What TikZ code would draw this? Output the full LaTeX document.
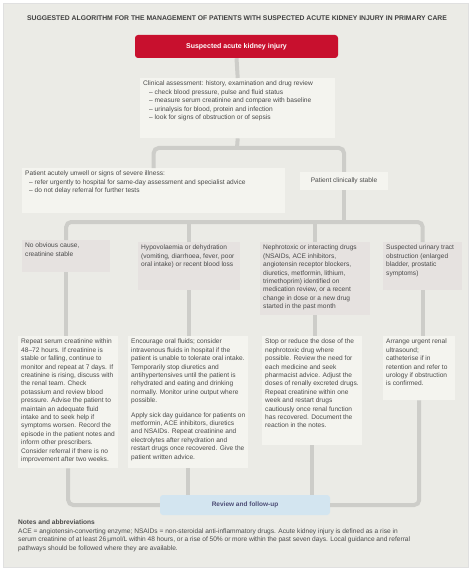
\documentclass[tikz,border=0pt]{standalone}
\usepackage{fontspec}
\setmainfont{Liberation Sans}

\definecolor{panelgrey}{HTML}{EBEBE6}
\definecolor{boxpale}{HTML}{F4F4EF}
\definecolor{boxpink}{HTML}{E6E2E0}
\definecolor{linkgrey}{HTML}{CDCDC9}
\definecolor{alertred}{HTML}{C8102E}
\definecolor{noteblue}{HTML}{D3E5F0}
\definecolor{textgrey}{HTML}{4A4A4A}

% fixed size text cell, text at the top
\newcommand{\cell}[3]{\parbox[c][#2][t]{#1}{\raggedright\hyphenpenalty=10000 #3}}

\begin{document}
\begin{tikzpicture}[x=1pt, y=-1pt,
    txt/.style={font=\fontsize{6.6}{8.4}\selectfont, text=textgrey, inner sep=3pt},
    pale/.style={txt, fill=boxpale, anchor=north west},
    pink/.style={txt, fill=boxpink, anchor=north west},
    link/.style={draw=linkgrey, line width=4pt, rounded corners=5pt},
  ]

    \useasboundingbox (0,0) rectangle (474,572);
    \fill[white] (0,0) rectangle (474,572);
    \draw[fill=panelgrey, draw=black!12] (3,3) rectangle (468,567);

    % title and start
    \node (title) at (237,18) {\fontsize{6.8}{7}\selectfont\bfseries\color{black!75}
      SUGGESTED ALGORITHM FOR THE MANAGEMENT OF PATIENTS WITH SUSPECTED ACUTE KIDNEY INJURY IN PRIMARY CARE};
    \node (start) [fill=alertred, rounded corners=3pt, minimum width=203pt, minimum height=23pt,
      text=white, font=\fontsize{7}{8}\selectfont\bfseries] at (236.5,46.5)
      {Suspected acute kidney injury};

    \node (assess) [pale] at (140,78) {\cell{189pt}{54pt}
      {Clinical assessment: history, examination and drug review\\
       \hspace*{6pt}-- check blood pressure, pulse and fluid status\\
       \hspace*{6pt}-- measure serum creatinine and compare with baseline\\
       \hspace*{6pt}-- urinalysis for blood, protein and infection\\
       \hspace*{6pt}-- look for signs of obstruction or of sepsis}};

    % first split
    \node (unwell) [pale] at (22,168) {\cell{257pt}{39pt}
      {Patient acutely unwell or signs of severe illness:\\
       \hspace*{4pt}-- refer urgently to hospital for same-day assessment and specialist advice\\
       \hspace*{4pt}-- do not delay referral for further tests}};
    \node (stable) [txt, fill=boxpale, minimum width=88pt, minimum height=18pt] at (344,181)
      {Patient clinically stable};

    % causes
    \node (nocause) [pink] at (22,240) {\cell{82pt}{26pt}
      {No obvious cause,\\ creatinine stable}};
    \node (volume) [pink] at (138,242) {\cell{96pt}{42pt}
      {Hypovolaemia or dehydration (vomiting, diarrhoea, fever, poor oral intake) or recent blood loss}};
    \node (drugs) [pink] at (260,242) {\cell{104pt}{67pt}
      {Nephrotoxic or interacting drugs (NSAIDs, ACE inhibitors, angiotensin receptor blockers, diuretics, metformin, lithium, trimethoprim) identified on medication review, or a recent change in dose or a new drug started in the past month}};
    \node (block) [pink] at (383,242) {\cell{73pt}{42pt}
      {Suspected urinary tract obstruction (enlarged bladder, prostatic symptoms)}};

    % actions
    \node (monitor) [pale] at (18,336) {\cell{94pt}{126pt}
      {Repeat serum creatinine within 48--72 hours. If creatinine is stable or falling, continue to monitor and repeat at 7 days. If creatinine is rising, discuss with the renal team. Check potassium and review blood pressure. Advise the patient to maintain an adequate fluid intake and to seek help if symptoms worsen. Record the episode in the patient notes and inform other prescribers. Consider referral if there is no improvement after two weeks.}};
    \node (fluids) [pale] at (128,336) {\cell{114pt}{126pt}
      {Encourage oral fluids; consider intravenous fluids in hospital if the patient is unable to tolerate oral intake. Temporarily stop diuretics and antihypertensives until the patient is rehydrated and eating and drinking normally. Monitor urine output where possible.\\[6pt]
       Apply sick day guidance for patients on metformin, ACE inhibitors, diuretics and NSAIDs. Repeat creatinine and electrolytes after rehydration and restart drugs once recovered. Give the patient written advice.}};
    \node (stopdrug) [pale] at (262,336) {\cell{94pt}{103pt}
      {Stop or reduce the dose of the nephrotoxic drug where possible. Review the need for each medicine and seek pharmacist advice. Adjust the doses of renally excreted drugs. Repeat creatinine within one week and restart drugs cautiously once renal function has recovered. Document the reaction in the notes.}};
    \node (scan) [pale] at (383,336) {\cell{66pt}{58pt}
      {Arrange urgent renal ultrasound; catheterise if in retention and refer to urology if obstruction is confirmed.}};

    \node (review) [fill=noteblue, rounded corners=3pt, minimum width=170pt, minimum height=20pt,
      text=black!60!blue!40!gray, font=\fontsize{6.5}{7.5}\selectfont\bfseries] at (245,505)
      {Review and follow-up};

    \node (notes) [txt, anchor=north west, inner sep=0pt] at (18,520) {\parbox{392pt}{\raggedright
      \textbf{Notes and abbreviations}\\
       ACE = angiotensin-converting enzyme; NSAIDs = non-steroidal anti-inflammatory drugs. Acute kidney injury is defined as a rise in serum creatinine of at least 26\,µmol/L within 48 hours, or a rise of 50\% or more within the past seven days. Local guidance and referral pathways should be followed where they are available.}};

    % connectors
    \coordinate (split1) at (237,148);
    \coordinate (split2) at (344,222);

    \draw[link] (start.south) -- (assess.north);
    \draw[link] (assess.south) -- (split1);
    \draw[link] (unwell.north) |- (split1) -| (stable.north);

    \draw[link] (stable.south) -- (split2);
    \draw[link] (nocause.north) |- (split2) -| (block.north);
    \draw[link] (volume.north) -- (volume.north |- split2);
    \draw[link] (drugs.north) -- (drugs.north |- split2);

    \draw[link] (nocause.south) -- (nocause.south |- monitor.north);
    \draw[link] (volume.south) -- (volume.south |- fluids.north);
    \draw[link] (drugs.south) -- (drugs.south |- stopdrug.north);
    \draw[link] (block.south) -- (block.south |- scan.north);

    \draw[link] (monitor.south) |- (review.west);
    \draw[link] (scan.south) |- (review.east);
    \draw[link] (fluids.south) -- (fluids.south |- review.north);
    \draw[link] (stopdrug.south) -- (stopdrug.south |- review.north);

\end{tikzpicture}
\end{document}
